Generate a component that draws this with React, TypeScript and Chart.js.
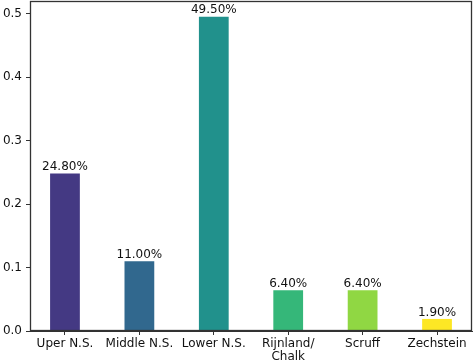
import React, { useEffect, useRef } from "react";
import { Chart, registerables } from "chart.js";
Chart.register(...registerables);

const categories: (string | string[])[] = ["Uper N.S.", "Middle N.S.", "Lower N.S.", ["Rijnland/", "Chalk"], "Scruff", "Zechstein"];
const values = [0.248, 0.11, 0.495, 0.064, 0.064, 0.019];
const valueLabels = ["24.80%", "11.00%", "49.50%", "6.40%", "6.40%", "1.90%"];
const colors = ["#443983", "#31688e", "#21918c", "#35b779", "#90d743", "#fde725"];
const yTicks = [0, 0.1, 0.2, 0.3, 0.4, 0.5];

const FONT = "'DejaVu Sans', sans-serif";

export default function App() {
  const ref = useRef<HTMLCanvasElement>(null);
  useEffect(() => {
    document.body.style.margin = "0";
    const ctx = ref.current!;
    const frame = {
      id: "frame",
      afterDatasetsDraw(chart: any) {
        const { left, right, top, bottom } = chart.chartArea;
        const c = chart.ctx;
        c.save();
        c.strokeStyle = "#333";
        c.lineWidth = 1.3;
        c.strokeRect(Math.round(left) + 0.5, Math.round(top) + 0.5, Math.round(right - left) - 1, Math.round(bottom - top) - 1);
        c.fillStyle = "#111";
        c.font = `12px ${FONT}`;
        c.textAlign = "center";
        c.textBaseline = "bottom";
        const meta = chart.getDatasetMeta(0);
        meta.data.forEach((bar: any, i: number) => {
          c.fillText(valueLabels[i], bar.x, bar.y - 0.5);
        });
        c.restore();
      },
    };
    const chart = new Chart(ctx, {
      type: "bar",
      data: {
        datasets: [
          {
            data: values.map((v, i) => ({ x: i, y: v })),
            backgroundColor: colors,
            barPercentage: 0.4,
            categoryPercentage: 1,
          },
        ],
      },
      options: {
        animation: false,
        responsive: false,
        maintainAspectRatio: false,
        layout: { padding: { top: 1, right: 2, left: 0, bottom: 0 } },
        plugins: { legend: { display: false }, tooltip: { enabled: false } },
        scales: {
          x: {
            type: "linear",
            min: -0.47,
            max: 5.47,
            offset: false,
            afterBuildTicks: (s: any) => {
              s.ticks = categories.map((_, i) => ({ value: i }));
            },
            afterFit: (s: any) => {
              s.height = 33;
              s.paddingLeft = 0;
              s.paddingRight = 0;
            },
            grid: { offset: false, drawOnChartArea: false, drawTicks: true, tickLength: 4, color: "#333" },
            border: { display: true, color: "#333" },
            ticks: {
              autoSkip: false,
              maxRotation: 0,
              padding: 3,
              color: "#111",
              font: { family: FONT, size: 12, lineHeight: 1.05 },
              callback: (v: any) => categories[Math.round(v)] as any,
            },
          },
          y: {
            min: 0,
            max: 0.51975,
            afterBuildTicks: (s: any) => {
              s.ticks = yTicks.map((v) => ({ value: v }));
            },
            afterFit: (s: any) => {
              s.width = 30;
              s.paddingTop = 0;
              s.paddingBottom = 0;
            },
            grid: { drawOnChartArea: false, drawTicks: true, tickLength: 4, color: "#333" },
            border: { display: true, color: "#333" },
            ticks: {
              padding: 4,
              color: "#111",
              font: { family: FONT, size: 12 },
              callback: (v: any) => Number(v).toFixed(1),
            },
          },
        },
      },
      plugins: [frame],
    } as any);
    return () => chart.destroy();
  }, []);
  return <canvas ref={ref} width={474} height={364} style={{ display: "block", width: 474, height: 364 }} />;
}
